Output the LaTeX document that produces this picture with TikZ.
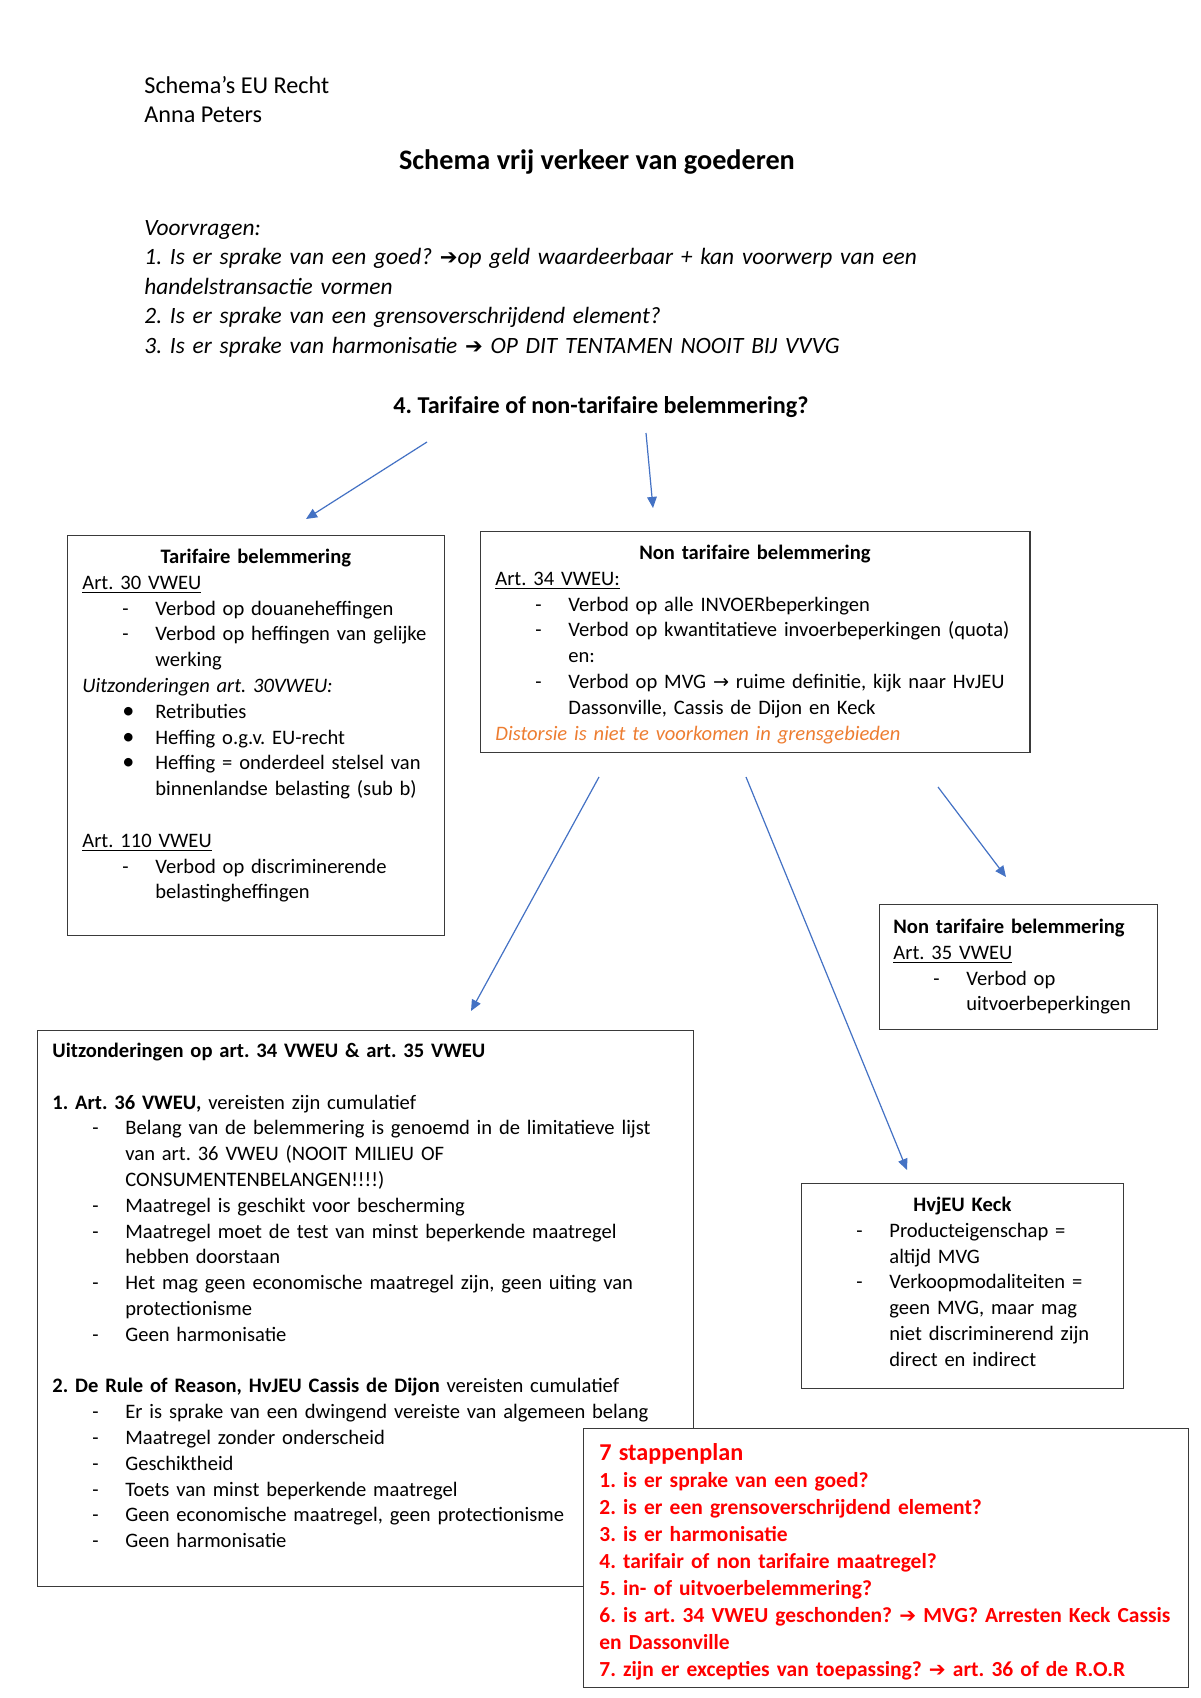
\documentclass[tikz,border=0pt]{standalone}
\usepackage{fontspec}
\setmainfont{Carlito}
\newfontfamily\symfont{DejaVu Sans}
\usetikzlibrary{arrows.meta}
\definecolor{arrowblue}{HTML}{4472C4}
\definecolor{distorange}{HTML}{ED7D31}
\definecolor{boxline}{HTML}{3A3A3A}
\definecolor{stapred}{HTML}{FF0000}
\newlength\pxu \setlength\pxu{0.49608pt}
\setlength{\parskip}{0pt}
\frenchspacing
\newcommand\dashitem[1]{\par\noindent\hangindent=73\pxu\hangafter=1\hspace*{40\pxu}\makebox[33\pxu][l]{-}#1}
\newcommand\bulitem[1]{\par\noindent\hangindent=73\pxu\hangafter=1\hspace*{40\pxu}\makebox[33\pxu][l]{\fontsize{12}{12.8}\selectfont •}#1}
\newcommand\plainline[1]{\par\noindent #1}
\newcommand\blankline{\par\noindent\mbox{}}
\newcommand\firststrut{\rule{0pt}{20\pxu}}
\begin{document}
\begin{tikzpicture}[x=0.49608pt, y=-0.49608pt,
  boxrect/.style={draw=boxline, line width=0.7pt, anchor=north west, inner sep=0pt},
  boxtext/.style={anchor=north west, inner sep=0pt, text width=#1, align=left,
    font=\fontsize{10.2}{12.8}\selectfont},
  headline/.style={anchor=base west, inner sep=0pt, font=\fontsize{12}{14.6}\selectfont},
  arr/.style={draw=arrowblue, line width=0.6pt, -{Triangle[length=5.5pt,width=4.8pt]}}]
\useasboundingbox (0,0) rectangle (1200,1698);

% header
\node[headline] (h1) at (144,94) {Schema’s EU Recht};
\node[headline] (h2) at (144,123) {Anna Peters};
\node[anchor=base, inner sep=0pt, font=\fontsize{14}{17}\selectfont\bfseries] (title) at (597,170) {Schema vrij verkeer van goederen};
\node[anchor=north west, inner sep=0pt, text width=560pt, align=left,
  font=\fontsize{11.6}{14.6}\selectfont\itshape] (voor) at (144,215) {%
  \firststrut Voorvragen:\\
  1. Is er sprake van een goed? {\upshape\symfont\fontsize{10.5}{14.6}\selectfont ➔}op geld waardeerbaar + kan voorwerp van een\\
  handelstransactie vormen\\
  2. Is er sprake van een grensoverschrijdend element?\\
  3. Is er sprake van harmonisatie {\upshape\symfont\fontsize{10.5}{14.6}\selectfont ➔} OP DIT TENTAMEN NOOIT BIJ VVVG};
\node[anchor=base, inner sep=0pt, font=\fontsize{12}{14.6}\selectfont\bfseries] (q4) at (601,413) {4. Tarifaire of non-tarifaire belemmering?};

% boxes
\node[boxrect, minimum width=187.0pt, minimum height=198.4pt] (tarbox) at (67,535) {};
\node[boxrect, minimum width=272.4pt, minimum height=109.6pt] (nonbox) at (480,531) {};
\node[boxrect, minimum width=137.9pt, minimum height=62.0pt] (uitvbox) at (879,904) {};
\node[boxrect, minimum width=325.4pt, minimum height=275.8pt] (uitzbox) at (37,1030) {};
\node[boxrect, minimum width=159.7pt, minimum height=101.7pt] (keckbox) at (801,1183) {};

% Tarifaire
\node[boxtext=240pt] (tartext) at (82,543) {%
  \noindent\firststrut\makebox[172.1pt][c]{\textbf{Tarifaire belemmering}}
  \plainline{\underline{Art. 30 VWEU}}
  \dashitem{Verbod op douaneheffingen}
  \dashitem{Verbod op heffingen van gelijke\newline werking}
  \plainline{\textit{Uitzonderingen art. 30VWEU:}}
  \bulitem{Retributies}
  \bulitem{Heffing o.g.v. EU-recht}
  \bulitem{Heffing = onderdeel stelsel van\newline binnenlandse belasting (sub b)}
  \blankline
  \plainline{\underline{Art. 110 VWEU}}
  \dashitem{Verbod op discriminerende\newline belastingheffingen}\par};

% Non tarifaire (art 34)
\node[boxtext=330pt] (nontext) at (495,539) {%
  \noindent\firststrut\makebox[257.5pt][c]{\textbf{Non tarifaire belemmering}}
  \plainline{\underline{Art. 34 VWEU:}}
  \dashitem{Verbod op alle INVOERbeperkingen}
  \dashitem{Verbod op kwantitatieve invoerbeperkingen (quota)\newline en:}
  \dashitem{Verbod op MVG {\symfont\fontsize{9.5}{12.8}\selectfont →} ruime definitie, kijk naar HvJEU\newline Dassonville, Cassis de Dijon en Keck}
  \plainline{\textcolor{distorange}{\textit{Distorsie is niet te voorkomen in grensgebieden}}}\par};

% Non tarifaire (art 35)
\node[boxtext=200pt] (uitvtext) at (893,913) {%
  \noindent\firststrut\textbf{Non tarifaire belemmering}
  \plainline{\underline{Art. 35 VWEU}}
  \dashitem{Verbod op\newline uitvoerbeperkingen}\par};

% Uitzonderingen
\node[boxtext=400pt] (uitztext) at (52,1037) {%
  \noindent\firststrut\textbf{Uitzonderingen op art. 34 VWEU \& art. 35 VWEU}
  \blankline
  \plainline{\textbf{1. Art. 36 VWEU,} vereisten zijn cumulatief}
  \dashitem{Belang van de belemmering is genoemd in de limitatieve lijst\newline van art. 36 VWEU (NOOIT MILIEU OF\newline CONSUMENTENBELANGEN!!!!)}
  \dashitem{Maatregel is geschikt voor bescherming}
  \dashitem{Maatregel moet de test van minst beperkende maatregel\newline hebben doorstaan}
  \dashitem{Het mag geen economische maatregel zijn, geen uiting van\newline protectionisme}
  \dashitem{Geen harmonisatie}
  \blankline
  \plainline{\textbf{2. De Rule of Reason, HvJEU Cassis de Dijon} vereisten cumulatief}
  \dashitem{Er is sprake van een dwingend vereiste van algemeen belang}
  \dashitem{Maatregel zonder onderscheid}
  \dashitem{Geschiktheid}
  \dashitem{Toets van minst beperkende maatregel}
  \dashitem{Geen economische maatregel, geen protectionisme}
  \dashitem{Geen harmonisatie}\par};

% Keck
\node[boxtext=220pt] (kecktext) at (816,1191) {%
  \noindent\firststrut\makebox[144.9pt][c]{\textbf{HvjEU Keck}}
  \dashitem{Producteigenschap =\newline altijd MVG}
  \dashitem{Verkoopmodaliteiten =\newline geen MVG, maar mag\newline niet discriminerend zijn\newline direct en indirect}\par};

% 7 stappenplan (on top)
\node[boxrect, fill=white, minimum width=300.1pt, minimum height=128.5pt] (stapbox) at (583,1428) {};
\node[anchor=north west, inner sep=0pt, text width=320pt, align=left, text=stapred,
  font=\fontsize{10.65}{13.4}\selectfont\bfseries] (staptext) at (599,1440) {%
  \firststrut{\fontsize{12}{13.4}\selectfont 7 stappenplan}\\
  1. is er sprake van een goed?\\
  2. is er een grensoverschrijdend element?\\
  3. is er harmonisatie\\
  4. tarifair of non tarifaire maatregel?\\
  5. in- of uitvoerbelemmering?\\
  6. is art. 34 VWEU geschonden? {\symfont\fontsize{10}{13.4}\selectfont ➔} MVG? Arresten Keck Cassis\\
  en Dassonville\\
  7. zijn er excepties van toepassing? {\symfont\fontsize{10}{13.4}\selectfont ➔} art. 36 of de R.O.R};

% arrows
\coordinate (a1s) at (427,442); \coordinate (a1e) at (306,519);
\coordinate (a2s) at (646,433); \coordinate (a2e) at (653,508);
\coordinate (a3s) at (599,777); \coordinate (a3e) at (471,1011);
\coordinate (a4s) at (746,777); \coordinate (a4e) at (907,1170);
\coordinate (a5s) at (938,787); \coordinate (a5e) at (1006,877);
\draw[arr] (a1s) -- (a1e);
\draw[arr] (a2s) -- (a2e);
\draw[arr] (a3s) -- (a3e);
\draw[arr] (a4s) -- (a4e);
\draw[arr] (a5s) -- (a5e);
\end{tikzpicture}
\end{document}
